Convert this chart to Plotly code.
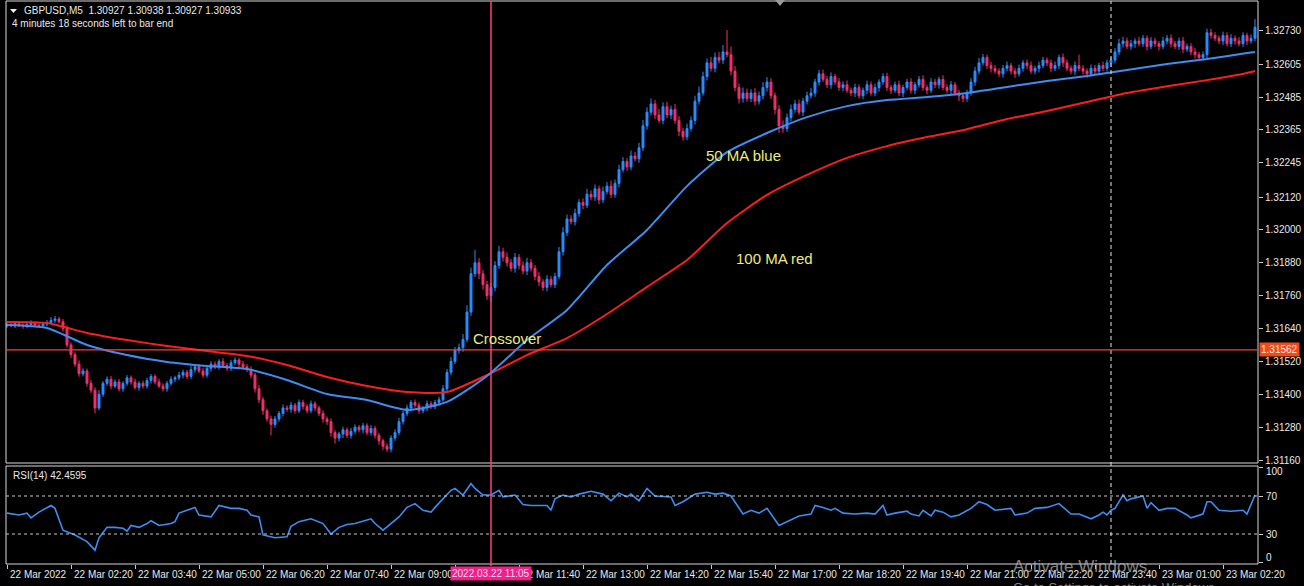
import plotly.graph_objects as go

W, H = 1304, 586

# ---------------- data (prices stored as points: price = 1 + v / 1e5) ----------------
first_open = 31650
closes = [
    # bars 0-14
    31655, 31650, 31658, 31652, 31648, 31655, 31660, 31652, 31650, 31656,
    31662, 31670, 31675, 31665, 31640,
    # 15-24
    31580, 31545, 31510, 31475, 31485, 31440, 31415, 31350, 31400, 31440,
    # 25-42
    31455, 31430, 31445, 31420, 31440, 31460, 31445, 31425, 31440, 31430,
    31450, 31465, 31445, 31430, 31420, 31440, 31455, 31460,
    # 43-60
    31470, 31480, 31465, 31490, 31500, 31485, 31470, 31495, 31510, 31500,
    31520, 31505, 31495, 31515, 31525, 31510, 31500, 31490,
    # 61-67
    31470, 31420, 31380, 31340, 31310, 31290, 31310,
    # 68-80
    31330, 31350, 31345, 31360, 31340, 31370, 31355, 31340, 31365, 31350,
    31330, 31310, 31300,
    # 81-86
    31260, 31240, 31255, 31270, 31250, 31265,
    # 87-93
    31280, 31270, 31285, 31260, 31275, 31250, 31230,
    # 94-96
    31210, 31200, 31240,
    # 97-101
    31260, 31300, 31330, 31350, 31370,
    # 102-108
    31360, 31340, 31350, 31365, 31355, 31370, 31380,
    # 109-113
    31420, 31480, 31520, 31560, 31570,
    # 114-117
    31600, 31700, 31840, 31880,
    # 118-121
    31840, 31800, 31760, 31790,
    # 122-124
    31870, 31920, 31900,
    # 125-131
    31880, 31860, 31900, 31870, 31850, 31880, 31860,
    # 132-137
    31830, 31810, 31790, 31820, 31800, 31830,
    # 138-141
    31920, 31990, 32040, 32030,
    # 142-148
    32060, 32100, 32090, 32130, 32120, 32150, 32110,
    # 149-152
    32140, 32160, 32130, 32170,
    # 153-158
    32220, 32250, 32230, 32270, 32260, 32300,
    # 159-163
    32380, 32430, 32460, 32420, 32400,
    # 164-168
    32450, 32420, 32440, 32400, 32360,
    # 169-173
    32340, 32370, 32400, 32470, 32500,
    # 174-180
    32560, 32610, 32590, 32630, 32620, 32650, 32640,
    # 181-192
    32580, 32520, 32480, 32500, 32480, 32500, 32470, 32490, 32520, 32540,
    32490, 32440,
    # 193-203
    32380, 32370, 32410, 32440, 32460, 32430, 32470, 32490, 32500, 32540, 32570,
    # 204-218
    32550, 32530, 32560, 32540, 32520, 32530, 32510, 32500, 32520, 32490,
    32510, 32530, 32500, 32520, 32540,
    # 219-238
    32560, 32520, 32510, 32530, 32500, 32520, 32540, 32510, 32530, 32550,
    32520, 32510, 32540, 32530, 32550, 32520, 32510, 32530, 32500, 32490,
    # 239-246
    32480, 32500, 32540, 32580, 32610, 32630, 32600, 32590,
    # 247-268
    32580, 32570, 32590, 32600, 32580, 32570, 32590, 32610, 32600, 32580,
    32590, 32600, 32620, 32610, 32590, 32600, 32630, 32610, 32590, 32580,
    32600, 32590,
    # 269-276
    32580, 32570, 32590, 32580, 32600, 32590, 32610, 32620,
    # 277-281
    32650, 32680, 32690, 32670, 32680,
    # 282-298
    32690, 32680, 32700, 32670, 32690, 32680, 32670, 32690, 32700, 32680,
    32670, 32690, 32660, 32670, 32650, 32640, 32630,
    # 299-301
    32640, 32720, 32710,
    # 302-311
    32700, 32690, 32710, 32680, 32700, 32690, 32680, 32710, 32690, 32700,
    # 312
    32740,
]

hi_wick = [
    6, 8, 5, 9, 7, 6, 10, 5, 8, 7, 9, 12, 11, 8, 10, 12, 9, 8, 14, 10,
    9, 12, 10, 15, 8, 10, 12, 9, 11, 8, 10, 9, 12, 8, 10, 11, 9, 8, 12, 10,
    9, 11, 8, 12, 10, 9, 14, 8, 10, 12, 9, 11, 10, 8, 12, 9, 11, 10, 8, 12,
    10, 12, 9, 14, 10, 8, 12, 11, 9, 13, 10, 12, 8, 11, 10, 9, 12, 10, 8, 11,
    9, 12, 10, 8, 11, 9, 12, 10, 8, 11, 9, 12, 10, 9, 8, 11, 10, 12, 14, 10,
    12, 9, 11, 10, 8, 12, 10, 9, 11, 14, 12, 16, 13, 15, 20, 25, 22, 47, 18, 15,
    14, 18, 16, 22, 15, 18, 14, 16, 12, 15, 18, 14, 12, 16, 10, 15, 12, 14, 18, 20,
    16, 14, 18, 12, 15, 20, 14, 16, 12, 18, 15, 20, 14, 18, 16, 12, 20, 15, 18, 22,
    18, 20, 15, 22, 16, 18, 14, 20, 16, 12, 18, 15, 20, 24, 18, 16, 22, 18, 20, 25,
    80, 30, 18, 15, 20, 16, 14, 18, 15, 20, 18, 14, 12, 16, 20, 15, 18, 14, 16, 12,
    15, 18, 12, 14, 16, 12, 15, 10, 14, 12, 16, 10, 14, 12, 10, 15, 12, 14, 10, 12,
    14, 10, 12, 15, 10, 12, 14, 10, 12, 15, 10, 14, 12, 10, 15, 12, 14, 10, 12, 10,
    12, 14, 15, 18, 12, 10, 14, 12, 10, 12, 15, 10, 12, 14, 10, 12, 15, 10, 14, 12,
    10, 12, 15, 10, 14, 12, 10, 15, 40, 12, 10, 14, 12, 10, 15, 12, 10, 14, 18, 15,
    12, 14, 10, 15, 12, 10, 14, 12, 10, 15, 12, 14, 10, 12, 15, 10, 12, 14, 10, 12,
    15, 14, 12, 10, 14, 12, 15, 10, 14, 12, 10, 14, 30,
]
lo_wick = [
    7, 5, 8, 6, 9, 7, 5, 8, 6, 7, 8, 6, 9, 7, 12, 10, 12, 9, 11, 10,
    12, 10, 20, 8, 10, 9, 12, 8, 10, 11, 9, 10, 8, 12, 9, 10, 11, 9, 8, 10,
    11, 9, 10, 8, 12, 9, 10, 11, 8, 10, 9, 12, 8, 10, 9, 11, 10, 8, 12, 10,
    9, 12, 14, 12, 15, 10, 40, 12, 10, 11, 9, 12, 10, 8, 11, 10, 9, 12, 10, 14,
    12, 15, 20, 12, 15, 10, 12, 10, 9, 12, 10, 11, 12, 15, 14, 10, 12, 10, 9, 11,
    10, 12, 9, 11, 10, 12, 9, 10, 12, 10, 9, 11, 10, 12, 15, 10, 14, 12, 20, 18,
    15, 22, 14, 12, 15, 14, 12, 16, 14, 12, 15, 12, 14, 16, 12, 14, 10, 12, 10, 14,
    12, 10, 14, 12, 15, 10, 12, 14, 16, 12, 10, 14, 12, 15, 10, 14, 12, 10, 15, 12,
    14, 12, 16, 10, 14, 12, 15, 12, 18, 14, 12, 10, 15, 12, 10, 14, 12, 15, 12, 14,
    10, 16, 14, 18, 15, 12, 14, 16, 12, 14, 15, 12, 18, 26, 15, 12, 14, 12, 10, 14,
    12, 10, 14, 12, 10, 12, 15, 10, 12, 14, 10, 12, 15, 10, 12, 14, 10, 12, 15, 10,
    12, 14, 10, 12, 15, 10, 12, 14, 10, 12, 15, 10, 12, 14, 10, 12, 15, 10, 20, 14,
    12, 10, 14, 12, 10, 12, 15, 10, 12, 14, 10, 12, 15, 10, 12, 14, 10, 12, 15, 10,
    12, 14, 10, 12, 15, 10, 12, 14, 10, 12, 15, 10, 12, 14, 10, 12, 15, 10, 12, 14,
    10, 12, 15, 10, 12, 14, 10, 12, 15, 10, 12, 14, 10, 12, 15, 10, 12, 14, 10, 12,
    14, 12, 10, 12, 15, 10, 12, 14, 10, 12, 15, 10, 12,
]

# moving averages (bar index -> value in points)
ma_bars = [0, 10, 20, 30, 40, 50, 60, 70, 80, 90, 100, 110, 120, 130, 140, 150,
           160, 170, 180, 190, 200, 210, 220, 230, 240, 250, 260, 270, 280, 290,
           300, 310, 312]
ma50 = [31653, 31642, 31580, 31543, 31518, 31503, 31492, 31452, 31401, 31379,
        31343, 31372, 31467, 31598, 31708, 31872, 32000, 32160, 32284, 32354,
        32412, 32452, 32474, 32485, 32500, 32522, 32544, 32562, 32584, 32606,
        32624, 32646, 32650]
ma100 = [31664, 31660, 31624, 31598, 31576, 31558, 31540, 31507, 31463, 31430,
         31408, 31408, 31470, 31543, 31605, 31693, 31792, 31890, 32025, 32128,
         32201, 32263, 32306, 32339, 32368, 32405, 32434, 32467, 32500, 32525,
         32547, 32573, 32580]

# RSI(14) readings
rsi_bars = [
    0, 3, 5, 6, 8, 11, 12, 14, 17, 20,
    22, 23, 25, 27, 29, 30, 31, 33, 35, 36,
    38, 41, 42, 43, 47, 48, 51, 53, 56, 58,
    60, 61, 63, 64, 67, 70, 71, 73, 76, 79,
    81, 83, 85, 87, 91, 92, 94, 96, 98, 100,
    102, 104, 106, 107, 109, 111, 112, 114, 116, 117,
    119, 121, 123, 124, 127, 129, 131, 135, 136, 137,
    139, 141, 143, 146, 149, 151, 153, 155, 156, 158,
    160, 162, 166, 167, 169, 172, 175, 177, 179, 181,
    184, 186, 188, 190, 193, 196, 198, 201, 202, 204,
    206, 207, 209, 212, 215, 217, 219, 220, 222, 225,
    226, 228, 229, 231, 232, 234, 236, 238, 241, 243,
    245, 247, 251, 252, 255, 257, 260, 263, 265, 266,
    268, 271, 273, 274, 275, 276, 277, 279, 280, 281,
    284, 285, 286, 288, 290, 292, 295, 296, 299, 300,
    301, 303, 306, 309, 310, 312,
]
rsi_vals = [
    52, 50, 52, 47, 53, 60, 57, 34, 29, 22,
    13, 26, 37, 37, 36, 33, 39, 37, 41, 44,
    39, 41, 43, 52, 58, 50, 48, 60, 57, 57,
    55, 50, 48, 29, 26, 27, 38, 43, 46, 41,
    30, 37, 40, 41, 46, 41, 34, 41, 48, 58,
    62, 55, 53, 58, 67, 76, 78, 71, 83, 78,
    71, 71, 76, 69, 71, 61, 60, 60, 55, 67,
    71, 69, 72, 75, 72, 65, 73, 69, 72, 65,
    78, 70, 69, 60, 64, 72, 74, 72, 73, 70,
    51, 55, 52, 57, 39, 45, 49, 51, 60, 58,
    55, 57, 52, 51, 52, 51, 60, 50, 52, 54,
    51, 49, 55, 49, 55, 53, 48, 50, 57, 64,
    61, 55, 57, 50, 52, 57, 58, 62, 55, 51,
    51, 46, 50, 53, 50, 55, 57, 71, 65, 67,
    70, 57, 63, 55, 57, 57, 50, 47, 51, 64,
    64, 55, 54, 55, 51, 71,
]

price_ticks = ["1.32730", "1.32605", "1.32485", "1.32365", "1.32245", "1.32120",
               "1.32000", "1.31880", "1.31760", "1.31640", "1.31520", "1.31400",
               "1.31280", "1.31160"]
time_tick_bars = [0, 16, 32, 48, 64, 80, 96, 112, 128, 144, 160, 176, 192, 208,
                  224, 240, 256, 272, 288, 304]
time_tick_text = ["22 Mar 2022", "22 Mar 02:20", "22 Mar 03:40", "22 Mar 05:00",
                  "22 Mar 06:20", "22 Mar 07:40", "22 Mar 09:00", "22 Mar 10:20",
                  "22 Mar 11:40", "22 Mar 13:00", "22 Mar 14:20", "22 Mar 15:40",
                  "22 Mar 17:00", "22 Mar 18:20", "22 Mar 19:40", "22 Mar 21:00",
                  "22 Mar 22:20", "22 Mar 23:40", "23 Mar 01:00", "23 Mar 02:20"]
rsi_levels = [70, 30]
rsi_ticks = ["100", "70", "30", "0"]
crosshair_bar = 121
crosshair_label = "2022.03.22 11:05"
crosshair_price = "1.31562"
day_sep_bar = 276

# ---------------- build ----------------
def P(v):
    return 1 + v / 1e5

opens = [first_open] + closes[:-1]
highs = [max(o, c) + w for o, c, w in zip(opens, closes, hi_wick)]
lows = [min(o, c) - w for o, c, w in zip(opens, closes, lo_wick)]
bars = list(range(len(closes)))

def px(x):
    return x / W

def py(y):
    return 1 - y / H

FONT = "Liberation Sans, Arial, sans-serif"
BULL = "#2b8cff"
BEAR = "#f0306a"

fig = go.Figure()
fig.add_trace(go.Candlestick(
    x=bars, open=[P(v) for v in opens], high=[P(v) for v in highs],
    low=[P(v) for v in lows], close=[P(v) for v in closes],
    increasing=dict(line=dict(color=BULL, width=1), fillcolor=BULL),
    decreasing=dict(line=dict(color=BEAR, width=1), fillcolor=BEAR),
    whiskerwidth=0, xaxis="x", yaxis="y", showlegend=False, hoverinfo="skip"))
fig.add_trace(go.Scatter(x=ma_bars, y=[P(v) for v in ma100], mode="lines",
                         line=dict(color="#ff1c1c", width=2, shape="spline", smoothing=0.6),
                         xaxis="x", yaxis="y", showlegend=False, hoverinfo="skip"))
fig.add_trace(go.Scatter(x=ma_bars, y=[P(v) for v in ma50], mode="lines",
                         line=dict(color="#3d8ef0", width=2, shape="spline", smoothing=0.6),
                         xaxis="x", yaxis="y", showlegend=False, hoverinfo="skip"))
fig.add_trace(go.Scatter(x=rsi_bars, y=rsi_vals, mode="lines",
                         line=dict(color="#3d8ef0", width=1.6),
                         xaxis="x", yaxis="y2", showlegend=False, hoverinfo="skip"))

main_top, main_bot = 1, 463
rsi_top, rsi_bot = 466, 564
x_left, x_right = 6, 1258
bar_px = 4.0
bar0_px = 7.0
xr = [(x_left - bar0_px) / bar_px, (x_right - bar0_px) / bar_px]

def price_at(ypix):
    # 1.31160 at y=460, 1.32730 at y=30
    return 1.3116 + (460 - ypix) * (0.0157 / 430)

def rsi_at(ypix):
    return 70 - (ypix - 496) / 0.95

shapes = []
# panel frames
for t, b in [(main_top, main_bot), (rsi_top, rsi_bot)]:
    shapes.append(dict(type="rect", xref="paper", yref="paper",
                       x0=px(x_left), x1=px(x_right), y0=py(b), y1=py(t),
                       line=dict(color="#d8d8d8", width=1), layer="above"))
# RSI levels
for lv in rsi_levels:
    shapes.append(dict(type="line", xref="paper", yref="y2", x0=px(x_left), x1=px(x_right),
                       y0=lv, y1=lv, line=dict(color="#c8c8c8", width=1, dash="3px,3px")))
# day separator
shapes.append(dict(type="line", xref="x", yref="paper", x0=day_sep_bar, x1=day_sep_bar,
                   y0=py(rsi_bot), y1=py(main_top),
                   line=dict(color="#e8e8e8", width=1, dash="4px,3px")))
# crosshair
shapes.append(dict(type="line", xref="paper", yref="y", x0=px(x_left), x1=px(x_right),
                   y0=float(crosshair_price), y1=float(crosshair_price),
                   line=dict(color="#ff3b3b", width=1.3)))
shapes.append(dict(type="line", xref="x", yref="paper", x0=crosshair_bar, x1=crosshair_bar,
                   y0=py(rsi_bot + 2), y1=py(main_top),
                   line=dict(color="#ff3f86", width=1.5)))
# chart-shift marker
shapes.append(dict(type="path", xref="paper", yref="paper",
                   path=f"M {px(775)} {py(0)} L {px(785)} {py(0)} L {px(780)} {py(6)} Z",
                   fillcolor="#9a9a9a", line=dict(width=0)))
# symbol menu triangle
shapes.append(dict(type="path", xref="paper", yref="paper",
                   path=f"M {px(10)} {py(9)} L {px(17)} {py(9)} L {px(13.5)} {py(13)} Z",
                   fillcolor="#f0f0f0", line=dict(width=0)))

ann = []
txt = "#e8e8e8"
ann.append(dict(xref="paper", yref="paper", x=px(22), y=py(11), xanchor="left", yanchor="middle",
                text="GBPUSD,M5  1.30927 1.30938 1.30927 1.30933", showarrow=False,
                font=dict(family=FONT, size=10, color=txt)))
ann.append(dict(xref="paper", yref="paper", x=px(10), y=py(24), xanchor="left", yanchor="middle",
                text="4 minutes 18 seconds left to bar end", showarrow=False,
                font=dict(family=FONT, size=10, color=txt)))
ann.append(dict(xref="paper", yref="paper", x=px(11), y=py(475), xanchor="left", yanchor="middle",
                text="RSI(14) 42.4595", showarrow=False,
                font=dict(family=FONT, size=10, color=txt)))
# chart notes
note_col = "#ecec7a"
ann.append(dict(xref="paper", yref="paper", x=px(471), y=py(339), xanchor="left", yanchor="middle",
                text="Crossover", showarrow=False, font=dict(family=FONT, size=15, color=note_col)))
ann.append(dict(xref="paper", yref="paper", x=px(704), y=py(156), xanchor="left", yanchor="middle",
                text="50 MA blue", showarrow=False, font=dict(family=FONT, size=15, color=note_col)))
ann.append(dict(xref="paper", yref="paper", x=px(734), y=py(258), xanchor="left", yanchor="middle",
                text="100 MA red", showarrow=False, font=dict(family=FONT, size=15, color=note_col)))
# time labels
for b, t in zip(time_tick_bars, time_tick_text):
    ann.append(dict(xref="x", yref="paper", x=b, y=py(574), xanchor="left", yanchor="middle",
                    xshift=1, text=t, showarrow=False,
                    font=dict(family=FONT, size=10, color=txt)))
# RSI labels
for t, ypix in zip(rsi_ticks, [471, 496, 534, 557]):
    ann.append(dict(xref="paper", yref="paper", x=px(1264), y=py(ypix), xanchor="left",
                    yanchor="middle", text=t, showarrow=False,
                    font=dict(family=FONT, size=10, color=txt)))
# watermark
wm = "rgba(175,175,175,0.75)"
ann.append(dict(xref="paper", yref="paper", x=px(1011), y=py(566), xanchor="left", yanchor="middle",
                text="Activate Windows", showarrow=False,
                font=dict(family=FONT, size=17, color=wm)))
ann.append(dict(xref="paper", yref="paper", x=px(1011), y=py(587), xanchor="left", yanchor="middle",
                text="Go to Settings to activate Windows.", showarrow=False,
                font=dict(family=FONT, size=13, color=wm)))
# crosshair labels
ann.append(dict(xref="x", yref="paper", x=crosshair_bar, y=py(573), xanchor="center",
                yanchor="middle", text=crosshair_label, showarrow=False, bgcolor="#f0208a",
                borderpad=1, font=dict(family=FONT, size=10, color="#ffd8ec")))
ann.append(dict(xref="paper", yref="y", x=px(1259), y=float(crosshair_price), xanchor="left",
                yanchor="middle", text=crosshair_price, showarrow=False, bgcolor="#f24a1a",
                borderpad=1, font=dict(family=FONT, size=10, color="#ffe8e0")))

fig.update_layout(
    width=W, height=H, margin=dict(l=0, r=0, t=0, b=0),
    paper_bgcolor="#000000", plot_bgcolor="#000000",
    showlegend=False, shapes=shapes, annotations=ann,
    xaxis=dict(domain=[px(x_left), px(x_right)], range=xr, anchor="y2",
               showgrid=False, zeroline=False, showline=False,
               tickmode="array", tickvals=time_tick_bars, showticklabels=False,
               ticks="outside", ticklen=4, tickcolor="#c8c8c8",
               rangeslider=dict(visible=False), fixedrange=True),
    yaxis=dict(domain=[py(main_bot), py(main_top)],
               range=[price_at(main_bot), price_at(main_top)],
               side="right", anchor="x", showgrid=False, zeroline=False, showline=False,
               tickmode="array", tickvals=[float(t) for t in price_ticks], ticktext=price_ticks,
               ticks="outside", ticklen=4, tickcolor="#c8c8c8",
               tickfont=dict(family=FONT, size=10, color=txt), automargin=False, fixedrange=True),
    yaxis2=dict(domain=[py(rsi_bot), py(rsi_top)],
                range=[rsi_at(rsi_bot), rsi_at(rsi_top)],
                side="right", anchor="x", showgrid=False, zeroline=False, showline=False,
                tickmode="array", tickvals=[100, 70, 30, 0], showticklabels=False,
                ticks="outside", ticklen=4, tickcolor="#c8c8c8", fixedrange=True),
)

fig.write_html(
    "out.html",
    config={"displayModeBar": False},
    post_script="document.body.style.margin='0';document.body.style.padding='0';"
                "document.body.style.overflow='hidden';document.body.style.background='#000';",
)
